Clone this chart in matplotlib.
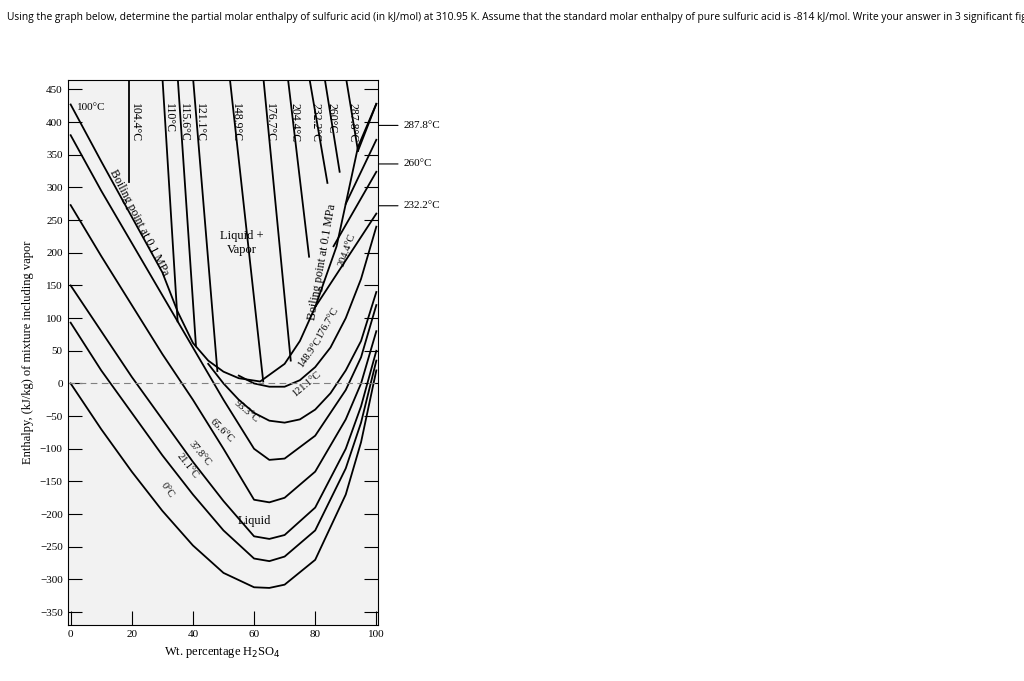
import matplotlib
matplotlib.use("Agg")
import matplotlib.pyplot as plt

title = ("Using the graph below, determine the partial molar enthalpy of sulfuric acid (in kJ/mol) at 310.95 K. "
         "Assume that the standard molar enthalpy of pure sulfuric acid is -814 kJ/mol. Write your answer in 3 significant figures.")

# liquid isotherms: (wt%, enthalpy kJ/kg)
wt_full = [0, 10, 20, 30, 40, 50, 60, 65, 70, 80, 90, 95, 100]
h_0 = [0, -70, -135, -195, -248, -290, -312, -313, -308, -270, -170, -90, 20]
h_21 = [93, 20, -45, -110, -170, -225, -268, -272, -265, -225, -130, -60, 35]
h_38 = [150, 80, 10, -55, -120, -180, -234, -238, -232, -190, -100, -35, 50]
h_66 = [273, 195, 120, 45, -25, -100, -178, -182, -175, -135, -55, 0, 80]
h_93 = [380, 295, 215, 135, 55, -25, -100, -117, -115, -80, -10, 40, 120]
wt_121 = [45, 50, 55, 60, 65, 70, 75, 80, 85, 90, 95, 100]
h_121 = [30, 0, -25, -45, -57, -60, -55, -40, -15, 20, 65, 140]
wt_149 = [55, 60, 65, 70, 75, 80, 85, 90, 95, 100]
h_149 = [12, 0, -5, -5, 5, 25, 55, 100, 160, 240]

wt_boil = [0, 10, 20, 30, 35, 40, 45, 50, 55, 62, 70, 75, 80, 87, 94, 100]
h_boil = [427, 340, 255, 170, 110, 62, 35, 18, 8, 3, 30, 65, 117, 210, 362, 428]

# two-phase isotherms
vert_names = ["104.4°C", "110°C", "115.6°C", "121.1°C", "148.9°C", "176.7°C",
              "204.4°C", "232.2°C", "260°C", "287.8°C"]
vert_xtop = [19, 30, 35, 40, 52, 63, 71, 78, 83, 90]
vert_xbot = [19, 35, 41, 48, 63, 72, 78, 84, 88, 94]
vert_hbot = [308, 95, 57, 19, 3, 35, 194, 307, 324, 356]

right_names = ["287.8°C", "260°C", "232.2°C"]
right_h = [395, 336, 272]

plt.rcParams['font.family'] = ['Liberation Serif', 'DejaVu Serif']
fig = plt.figure(figsize=(10.24, 6.81), dpi=100)
fig.text(0.007, 0.975, title, fontsize=7.4, family=['Open Sans', 'DejaVu Sans'], va='center')
ax = fig.add_axes([0.066, 0.082, 0.303, 0.801])
ax.set_facecolor('#f2f2f2')
lw = 1.3
for h in [h_0, h_21, h_38, h_66, h_93]:
    ax.plot(wt_full, h, color='black', lw=lw)
ax.plot(wt_121, h_121, color='black', lw=lw)
ax.plot(wt_149, h_149, color='black', lw=lw)
ax.plot(wt_boil, h_boil, color='black', lw=lw)
for xt, xb, hb in zip(vert_xtop, vert_xbot, vert_hbot):
    ax.plot([xt, xb], [470, hb], color='black', lw=lw)
ax.plot([100, 94], [428, 356], color='black', lw=lw)
ax.plot([100, 90], [373, 275], color='black', lw=lw)
ax.plot([100, 86], [324, 210], color='black', lw=lw)
ax.plot([100, 80], [260, 117], color='black', lw=lw)
ax.axhline(0, color='gray', lw=0.8, ls=(0, (6, 4)))

for n, xt in zip(vert_names, vert_xtop):
    ax.text(xt + 2.2, 430, n, rotation=-90, fontsize=8.5, va='top', ha='center')
for n, h in zip(right_names, right_h):
    ax.annotate("", xy=(100, h), xytext=(108, h), annotation_clip=False,
                arrowprops=dict(arrowstyle='-', lw=0.8))
    ax.text(109, h, n, fontsize=8, va='center', clip_on=False)

ax.text(2, 418, "100°C", fontsize=8)
ax.text(12, 330, "Boiling point at 0.1 MPa", rotation=-63, fontsize=8.5, va='top')
ax.text(77, 100, "Boiling point at 0.1 MPa", rotation=80, fontsize=8.5)
ax.text(56, 200, "Liquid +\nVapor", ha='center', fontsize=9)
ax.text(60, -215, "Liquid", ha='center', fontsize=9)
ax.text(29, -175, "0°C", rotation=-55, fontsize=7.5)
ax.text(34, -145, "21.1°C", rotation=-52, fontsize=7.5)
ax.text(38, -125, "37.8°C", rotation=-50, fontsize=7.5)
ax.text(45, -90, "65.6°C", rotation=-45, fontsize=7.5)
ax.text(53, -60, "93.3°C", rotation=-40, fontsize=7.5)
ax.text(72, -20, "121.1°C", rotation=40, fontsize=7.5)
ax.text(74, 25, "148.9°C", rotation=55, fontsize=7.5)
ax.text(80, 70, "176.7°C", rotation=60, fontsize=7.5)
ax.text(87, 180, "204.4°C", rotation=70, fontsize=7.5)

ax.set_xlim(-1, 100.5)
ax.set_ylim(-370, 465)
ax.set_xticks([0, 20, 40, 60, 80, 100])
ax.set_yticks(list(range(-350, 451, 50)))
ax.tick_params(direction='in', length=10, right=True, top=False, labelsize=8)
ax.set_xlabel("Wt. percentage H$_2$SO$_4$", fontsize=9)
ax.set_ylabel("Enthalpy, (kJ/kg) of mixture including vapor", fontsize=9)
fig.savefig("out.png", dpi=100)
